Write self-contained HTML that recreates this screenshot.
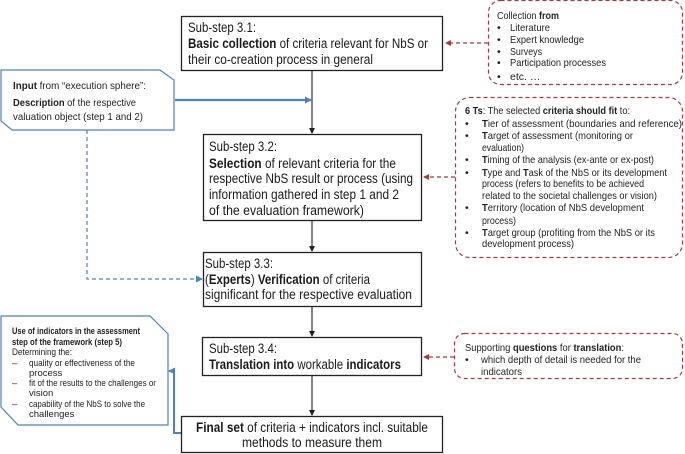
<!DOCTYPE html>
<html><head><meta charset="utf-8"><style>
html,body{margin:0;padding:0;background:#fff;}
svg{display:block;font-family:"Liberation Sans",sans-serif;}
.m{font-size:13.5px;fill:#1a1a1a;}
.s{font-size:10.5px;fill:#222;}
.t{font-size:9.5px;fill:#222;}
.b{font-weight:bold;}
</style></head><body>
<svg width="685" height="454" viewBox="0 0 685 454" xmlns="http://www.w3.org/2000/svg">
<defs>
<marker id="ak" markerWidth="6" markerHeight="6" refX="5" refY="3" orient="auto" markerUnits="userSpaceOnUse"><path d="M0,0 L6,3 L0,6 z" fill="#222"/></marker>
<marker id="ar" markerWidth="6" markerHeight="6" refX="5" refY="3" orient="auto" markerUnits="userSpaceOnUse"><path d="M0,0 L6,3 L0,6 z" fill="#a33b3b"/></marker>
<marker id="ab" markerWidth="7" markerHeight="7" refX="6" refY="3.5" orient="auto" markerUnits="userSpaceOnUse"><path d="M0,0 L7,3.5 L0,7 z" fill="#4f81bd"/></marker>
</defs>

<!-- connectors -->
<line x1="312" y1="70" x2="312" y2="133" stroke="#333" stroke-width="1.2" marker-end="url(#ak)"/>
<line x1="312" y1="220" x2="312" y2="251" stroke="#333" stroke-width="1.2" marker-end="url(#ak)"/>
<line x1="312" y1="306" x2="312" y2="336" stroke="#333" stroke-width="1.2" marker-end="url(#ak)"/>
<line x1="312" y1="376" x2="312" y2="415" stroke="#333" stroke-width="1.2" marker-end="url(#ak)"/>
<line x1="175" y1="100" x2="311" y2="100" stroke="#4f81bd" stroke-width="2.2" marker-end="url(#ab)"/>
<polyline points="87,130 87,279 202,279" fill="none" stroke="#4f81bd" stroke-width="1.2" stroke-dasharray="4,3" marker-end="url(#ab)"/>
<polyline points="181,433 174,433 174,371 169,371" fill="none" stroke="#4f81bd" stroke-width="2" marker-end="url(#ab)"/>
<line x1="488" y1="43" x2="446" y2="43" stroke="#a33b3b" stroke-width="1.2" stroke-dasharray="4,3" marker-end="url(#ar)"/>
<line x1="455" y1="177" x2="424" y2="177" stroke="#a33b3b" stroke-width="1.2" stroke-dasharray="4,3" marker-end="url(#ar)"/>
<line x1="454" y1="357" x2="424" y2="357" stroke="#a33b3b" stroke-width="1.2" stroke-dasharray="4,3" marker-end="url(#ar)"/>

<!-- main boxes -->
<rect x="181.5" y="16.5" width="261" height="54" fill="#fff" stroke="#222" stroke-width="1.3"/>
<text class="m" x="188" y="32" textLength="68" lengthAdjust="spacingAndGlyphs">Sub-step 3.1:</text>
<text class="m" x="188" y="48" textLength="240" lengthAdjust="spacingAndGlyphs"><tspan class="b">Basic collection</tspan> of criteria relevant for NbS or</text>
<text class="m" x="188" y="64" textLength="185" lengthAdjust="spacingAndGlyphs">their co-creation process in general</text>

<rect x="203.5" y="134.5" width="218" height="86" fill="#fff" stroke="#222" stroke-width="1.3"/>
<text class="m" x="209" y="151" textLength="68" lengthAdjust="spacingAndGlyphs">Sub-step 3.2:</text>
<text class="m" x="209" y="168" textLength="187" lengthAdjust="spacingAndGlyphs"><tspan class="b">Selection</tspan> of relevant criteria for the</text>
<text class="m" x="209" y="183" textLength="204" lengthAdjust="spacingAndGlyphs">respective NbS result or process (using</text>
<text class="m" x="209" y="199" textLength="190" lengthAdjust="spacingAndGlyphs">information gathered in step 1 and 2</text>
<text class="m" x="209" y="215" textLength="155" lengthAdjust="spacingAndGlyphs">of the evaluation framework)</text>

<rect x="203.5" y="252.5" width="218" height="54" fill="#fff" stroke="#222" stroke-width="1.3"/>
<text class="m" x="205" y="268" textLength="68" lengthAdjust="spacingAndGlyphs">Sub-step 3.3:</text>
<text class="m" x="205" y="284" textLength="165" lengthAdjust="spacingAndGlyphs">(<tspan class="b">Experts</tspan>) <tspan class="b">Verification</tspan> of criteria</text>
<text class="m" x="205" y="299" textLength="207" lengthAdjust="spacingAndGlyphs">significant for the respective evaluation</text>

<rect x="202.5" y="337.5" width="219" height="38" fill="#fff" stroke="#222" stroke-width="1.3"/>
<text class="m" x="209" y="353" textLength="68" lengthAdjust="spacingAndGlyphs">Sub-step 3.4:</text>
<text class="m" x="209" y="369" textLength="192" lengthAdjust="spacingAndGlyphs"><tspan class="b">Translation into</tspan> workable <tspan class="b">indicators</tspan></text>

<rect x="181.5" y="416.5" width="261" height="36" fill="#fff" stroke="#222" stroke-width="1.3"/>
<text class="m" x="196" y="432" textLength="232" lengthAdjust="spacingAndGlyphs"><tspan class="b">Final set</tspan> of criteria + indicators incl. suitable</text>
<text class="m" x="242" y="447" textLength="140" lengthAdjust="spacingAndGlyphs">methods to measure them</text>

<!-- input box -->
<polygon points="1,70 160,70 174,80 174,130 12,130 1,121" fill="#fff" stroke="#4f81bd" stroke-width="1.2"/>
<text class="s" x="13" y="89" textLength="133" lengthAdjust="spacingAndGlyphs"><tspan class="b">Input</tspan> from “execution sphere”:</text>
<text class="s" x="13" y="106" textLength="123" lengthAdjust="spacingAndGlyphs"><tspan class="b">Description</tspan> of the respective</text>
<text class="s" x="13" y="120" textLength="130" lengthAdjust="spacingAndGlyphs">valuation object (step 1 and 2)</text>

<!-- use box -->
<polygon points="1,316 150,316 168,334 168,425 18,425 1,407" fill="#fff" stroke="#4f81bd" stroke-width="1.2"/>
<text class="t b" x="12" y="334" textLength="128" lengthAdjust="spacingAndGlyphs">Use of indicators in the assessment</text>
<text class="t b" x="12" y="345" textLength="110" lengthAdjust="spacingAndGlyphs">step of the framework (step 5)</text>
<text class="t" x="12" y="355" textLength="60" lengthAdjust="spacingAndGlyphs">Determining the:</text>
<text class="t" x="12" y="366">–</text><text class="t" x="29" y="366" textLength="106" lengthAdjust="spacingAndGlyphs">quality or effectiveness of the</text>
<text class="t" x="29" y="376">process</text>
<text class="t" x="12" y="386">–</text><text class="t" x="29" y="386" textLength="127" lengthAdjust="spacingAndGlyphs">fit of the results to the challenges or</text>
<text class="t" x="29" y="396">vision</text>
<text class="t" x="12" y="407">–</text><text class="t" x="29" y="407" textLength="116" lengthAdjust="spacingAndGlyphs">capability of the NbS to solve the</text>
<text class="t" x="29" y="417">challenges</text>

<!-- collection box -->
<rect x="488.5" y="0.5" width="194" height="84" rx="12" fill="#fff" stroke="#a33b3b" stroke-width="1.2" stroke-dasharray="4,3"/>
<text class="s" x="497" y="19" textLength="62" lengthAdjust="spacingAndGlyphs">Collection <tspan class="b">from</tspan></text>
<g class="s">
<text x="497" y="31">•</text><text x="510" y="31" textLength="40" lengthAdjust="spacingAndGlyphs">Literature</text>
<text x="497" y="43">•</text><text x="510" y="43" textLength="74" lengthAdjust="spacingAndGlyphs">Expert knowledge</text>
<text x="497" y="55">•</text><text x="510" y="55" textLength="32" lengthAdjust="spacingAndGlyphs">Surveys</text>
<text x="497" y="66">•</text><text x="510" y="66" textLength="96" lengthAdjust="spacingAndGlyphs">Participation processes</text>
<text x="497" y="80">•</text><text x="510" y="80">etc. …</text>
</g>

<!-- 6 Ts box -->
<rect x="455.5" y="97.5" width="227" height="160" rx="14" fill="#fff" stroke="#a33b3b" stroke-width="1.2" stroke-dasharray="4,3"/>
<g class="s">
<text x="465" y="114" textLength="165" lengthAdjust="spacingAndGlyphs"><tspan class="b">6 Ts</tspan>: The selected <tspan class="b">criteria should fit</tspan> to:</text>
<text x="465" y="127">•</text><text x="482" y="127" textLength="200" lengthAdjust="spacingAndGlyphs"><tspan class="b">T</tspan>ier of assessment (boundaries and reference)</text>
<text x="465" y="139">•</text><text x="482" y="139" textLength="151" lengthAdjust="spacingAndGlyphs"><tspan class="b">T</tspan>arget of assessment (monitoring or</text>
<text x="482" y="151" textLength="42" lengthAdjust="spacingAndGlyphs">evaluation)</text>
<text x="465" y="163">•</text><text x="482" y="163" textLength="172" lengthAdjust="spacingAndGlyphs"><tspan class="b">T</tspan>iming of the analysis (ex-ante or ex-post)</text>
<text x="465" y="176">•</text><text x="482" y="176" textLength="185" lengthAdjust="spacingAndGlyphs"><tspan class="b">T</tspan>ype and <tspan class="b">T</tspan>ask of the NbS or its development</text>
<text x="482" y="187" textLength="162" lengthAdjust="spacingAndGlyphs">process (refers to benefits to be achieved</text>
<text x="482" y="199" textLength="175" lengthAdjust="spacingAndGlyphs">related to the societal challenges or vision)</text>
<text x="465" y="211">•</text><text x="482" y="211" textLength="162" lengthAdjust="spacingAndGlyphs"><tspan class="b">T</tspan>erritory (location of NbS development</text>
<text x="482" y="224" textLength="34" lengthAdjust="spacingAndGlyphs">process)</text>
<text x="465" y="236">•</text><text x="482" y="236" textLength="173" lengthAdjust="spacingAndGlyphs"><tspan class="b">T</tspan>arget group (profiting from the NbS or its</text>
<text x="482" y="247" textLength="92" lengthAdjust="spacingAndGlyphs">development process)</text>
</g>

<!-- supporting box -->
<rect x="454.5" y="333.5" width="228" height="45" rx="10" fill="#fff" stroke="#a33b3b" stroke-width="1.2" stroke-dasharray="4,3"/>
<g class="s">
<text x="465" y="351" textLength="159" lengthAdjust="spacingAndGlyphs">Supporting <tspan class="b">questions</tspan> for <tspan class="b">translation</tspan>:</text>
<text x="465" y="363">•</text><text x="481" y="363" textLength="160" lengthAdjust="spacingAndGlyphs">which depth of detail is needed for the</text>
<text x="481" y="375" textLength="41" lengthAdjust="spacingAndGlyphs">indicators</text>
</g>
</svg>
</body></html>
